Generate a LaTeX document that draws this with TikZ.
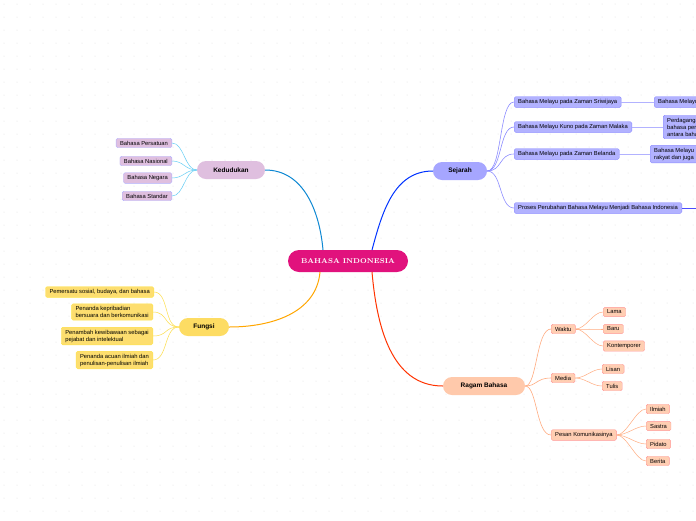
\documentclass[tikz,border=0pt]{standalone}
\usepackage{fontspec}
\setsansfont{Liberation Sans}
\begin{document}
\begin{tikzpicture}[x=1pt,y=-1pt,
  every node/.style={font=\sffamily\fontsize{5.8}{7}\selectfont, inner xsep=4pt, inner ysep=2.6pt, rounded corners=1.5pt, align=left},
  main/.style={rounded corners=9pt, minimum height=18pt, font=\sffamily\bfseries\fontsize{6.5}{7}\selectfont, inner xsep=8pt}]
\useasboundingbox (0,0) rectangle (696,520);
\fill[white] (0,0) rectangle (696,520);
\foreach \i in {0,...,53} \foreach \j in {0,...,40} \fill[gray!25] (4+13*\i,4+13*\j) circle (0.5);
\begin{scope}
\clip (0,0) rectangle (696,520);
% center
\node[fill=magenta!75!purple, text=white, rounded corners=11pt, minimum width=120pt, minimum height=22pt, font=\rmfamily\bfseries\fontsize{7}{8}\selectfont] (C) at (348,261) {BAHASA INDONESIA};
\node[main, fill=violet!25, minimum width=68pt] (K) at (231,170) {Kedudukan};
\node[main, fill=blue!35, minimum width=54pt] (S) at (460,171) {Sejarah};
\node[main, fill=yellow!60!orange!60, minimum width=50pt] (F) at (204,327) {Fungsi};
\node[main, fill=orange!40!pink!60, minimum width=82pt] (R) at (484,386) {Ragam Bahasa};
\draw[cyan!70!blue, line width=1pt] (323,250) to[out=95,in=0] (K.east);
\draw[blue!80!cyan, line width=1pt] (372,250) to[out=75,in=180] (S.west);
\draw[orange!70!yellow, line width=1pt] (320,272) to[out=-95,in=0] (F.east);
\draw[red!60!orange, line width=1pt] (372,272) to[out=-85,in=180] (R.west);
% Kedudukan
\tikzset{kk/.style={fill=violet!25, draw=blue!30, line width=0.4pt, anchor=east}}
\node[kk] (k1) at (172,143) {Bahasa Persatuan};
\node[kk] (k2) at (172,161) {Bahasa Nasional};
\node[kk] (k3) at (172,178) {Bahasa Negara};
\node[kk] (k4) at (172,196) {Bahasa Standar};
\foreach \n in {k1,k2,k3,k4} \draw[cyan!60, line width=0.5pt] (K.west) .. controls +(-12,0) and +(12,0) .. (\n.east);
% Sejarah
\tikzset{ss/.style={fill=blue!30, draw=blue!45, line width=0.4pt, anchor=west}}
\node[ss] (s1) at (514,102) {Bahasa Melayu pada Zaman Sriwijaya};
\node[ss] (s2) at (514,127) {Bahasa Melayu Kuno pada Zaman Malaka};
\node[ss] (s3) at (514,154) {Bahasa Melayu pada Zaman Belanda};
\node[ss] (s4) at (514,208) {Proses Perubahan Bahasa Melayu Menjadi Bahasa Indonesia};
\node[ss] (t1) at (654,102) {Bahasa Melayu pada zaman};
\node[ss] (t2) at (663,127) {Perdagangan\\bahasa pergaulan\\antara bahasa};
\node[ss] (t3) at (650,154) {Bahasa Melayu digunakan\\rakyat dan juga};
\coordinate (t4) at (700,208);
\foreach \n in {s1,s2,s3,s4} \draw[blue!45, line width=0.6pt] (S.east) .. controls +(15,0) and +(-15,0) .. (\n.west);
\foreach \a/\b in {s1/t1,s2/t2,s3/t3} \draw[blue!30, line width=1pt] (\a.east) -- (\b.west);
\draw[blue!70, line width=1pt] (s4.east) -- (t4);
% Fungsi
\tikzset{ff/.style={fill=yellow!60!orange!55, draw=yellow!80!orange!70, line width=0.4pt, anchor=east}}
\node[ff] (f1) at (154,292) {Pemersatu sosial, budaya, dan bahasa};
\node[ff] (f2) at (153,312) {Penanda kepribadian\\bersuara dan berkomunikasi};
\node[ff] (f3) at (153,336) {Penambah kewibawaan sebagai\\pejabat dan intelektual};
\node[ff] (f4) at (153,360) {Penanda acuan ilmiah dan\\penulisan-penulisan ilmiah};
\foreach \n in {f1,f2,f3,f4} \draw[yellow!70!orange!70, line width=0.5pt] (F.west) .. controls +(-15,0) and +(15,0) .. (\n.east);
% Ragam
\tikzset{rr/.style={fill=orange!40!pink!55, draw=red!40, line width=0.4pt, anchor=west}}
\node[rr] (r1) at (551,329) {Waktu};
\node[rr] (r2) at (551,378) {Media};
\node[rr] (r3) at (551,435) {Pesan Komunikasinya};
\foreach \n in {r1,r2,r3} \draw[red!30!orange!50, line width=0.6pt] (R.east) .. controls +(12,0) and +(-15,0) .. (\n.west);
\node[rr] (w1) at (603,312) {Lama};
\node[rr] (w2) at (603,329) {Baru};
\node[rr] (w3) at (603,346) {Kontemporer};
\node[rr] (m1) at (602,369) {Lisan};
\node[rr] (m2) at (602,386) {Tulis};
\node[rr] (p1) at (646,409) {Ilmiah};
\node[rr] (p2) at (646,426) {Sastra};
\node[rr] (p3) at (646,444) {Pidato};
\node[rr] (p4) at (646,461) {Berita};
\foreach \a/\b in {r1/w1,r1/w2,r1/w3,r2/m1,r2/m2,r3/p1,r3/p2,r3/p3,r3/p4}
  \draw[red!30!orange!50, line width=0.5pt] (\a.east) .. controls +(10,0) and +(-10,0) .. (\b.west);
\end{scope}
\end{tikzpicture}
\end{document}
